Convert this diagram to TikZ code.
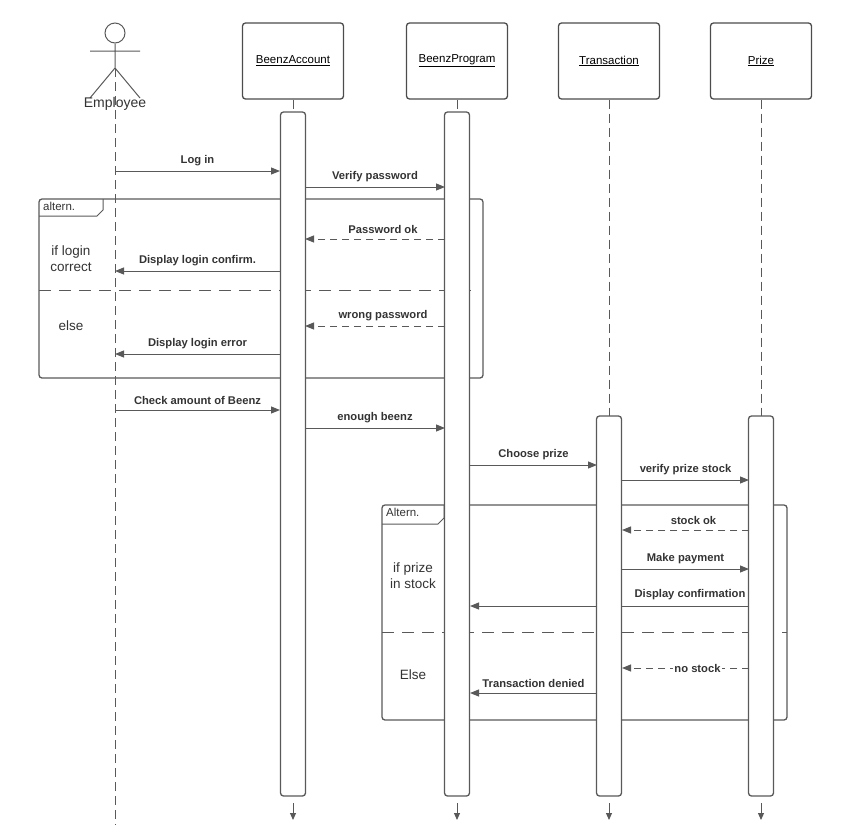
\documentclass[tikz,border=0pt]{standalone}
\usepackage{fontspec}
\setmainfont{Liberation Sans}
\usetikzlibrary{arrows.meta}
\begin{document}
\begin{tikzpicture}[x=1pt,y=-1pt,
  ln/.style={draw=black!65,line width=1pt},
  msg/.style={ln,-{Triangle[length=9pt,width=7pt]}},
  ret/.style={msg,dash pattern=on 7pt off 5pt},
  lbl/.style={font=\bfseries\fontsize{11.2}{13}\selectfont,text=black!80,inner sep=1pt},
  hdr/.style={draw=black!70,line width=1.3pt,rounded corners=3pt,minimum width=101pt,minimum height=76pt,font=\fontsize{11.5}{13}\selectfont},
  act/.style={draw=black!65,line width=1.3pt,fill=white,rounded corners=3pt},
  life/.style={ln,dash pattern=on 9pt off 5pt},
  frm/.style={draw=black!65,line width=1.3pt,rounded corners=3pt},
  txt/.style={font=\fontsize{13.5}{16}\selectfont,text=black!80,align=center}]
\useasboundingbox (0,0) rectangle (849,839);
% headers
\node[hdr] (ha) at (293,61) {\underline{BeenzAccount}};
\node[hdr] (hp) at (457,61) {\underline{BeenzProgram}};
\node[hdr] (ht) at (609,61) {\underline{Transaction}};
\node[hdr] (hz) at (761,61) {\underline{Prize}};
% actor
\node[draw=black!65,line width=1pt,circle,minimum size=20pt,inner sep=0] (head) at (115,33) {};
\coordinate (hip) at (115,68);
\coordinate (al) at (90,51); \coordinate (ar) at (140,51);
\coordinate (ll) at (90,98); \coordinate (lr) at (140,98);
\draw[ln] (head.south) -- (hip) (al) -- (ar) (ll) -- (hip) -- (lr);
\node[txt,font=\fontsize{14}{16}\selectfont] (emp) at (115,104) {Employee};
\coordinate (eb) at (115,825);
\draw[life] (hip) -- (eb);
% frames
\draw[frm] (39,199) rectangle (483,378);
\node[anchor=north west,inner sep=2pt,font=\fontsize{11.5}{13}\selectfont,text=black!80] (t1) at (41,200) {altern.};
\draw[ln] (39,216) -- (97,216) -- (103,210) -- (103,199);
\draw[ln,dash pattern=on 12pt off 8pt] (39,290) -- (473,290);
\node[txt] (c1) at (71,259) {if login\\correct};
\node[txt] (c2) at (71,326) {else};
\draw[frm] (382,505) rectangle (787,720);
\node[anchor=north west,inner sep=2pt,font=\fontsize{11.5}{13}\selectfont,text=black!80] (t2) at (384,506) {Altern.};
\draw[ln] (382,524) -- (438,524) -- (444,518) -- (444,505);
\draw[ln,dash pattern=on 12pt off 8pt] (382,632) -- (787,632);
\node[txt] (c3) at (413,576) {if prize\\in stock};
\node[txt] (c4) at (413,675) {Else};
% lifelines & activations
\foreach \n/\x/\t in {a/293/112,p/457/112,t/609/416,z/761/416}{
  \draw[life] (h\n.south) -- (\x,\t);
  \draw[act] (\x-12.5,\t) rectangle (\x+12.5,796);
  \draw[ln,-{Triangle[length=7pt,width=6pt]}] (\x,803) -- (\x,820);
}
% messages
\draw[msg] (115,171) -- node[lbl,above=4pt] {Log in} (280,171);
\draw[msg] (305,187) -- node[lbl,above=4pt] {Verify password} (445,187);
\draw[ret] (445,239) -- node[lbl,above=4pt,xshift=8pt] {Password ok} (305,239);
\draw[msg] (280,271) -- node[lbl,above=4pt] {Display login confirm.} (115,271);
\draw[ret] (445,326) -- node[lbl,above=4pt,xshift=8pt] {wrong password} (305,326);
\draw[msg] (280,354) -- node[lbl,above=4pt] {Display login error} (115,354);
\draw[msg] (115,410) -- node[lbl,above=4pt] {Check amount of Beenz} (280,410);
\draw[msg] (305,428) -- node[lbl,above=4pt] {enough beenz} (445,428);
\draw[msg] (470,465) -- node[lbl,above=4pt] {Choose prize} (597,465);
\draw[msg] (622,480) -- node[lbl,above=4pt] {verify prize stock} (749,480);
\draw[ret] (749,530) -- node[lbl,above=4pt,xshift=8pt] {stock ok} (622,530);
\draw[msg] (622,569) -- node[lbl,above=4pt] {Make payment} (749,569);
\draw[ln] (749,606) -- (622,606);
\draw[msg] (597,606) -- (470,606);
\node[lbl] (dc) at (690,595) {Display confirmation};
\draw[ret] (749,668) -- node[lbl,fill=white,xshift=12pt] {no stock} (622,668);
\draw[msg] (597,693) -- node[lbl,above=4pt] {Transaction denied} (470,693);
\end{tikzpicture}
\end{document}
